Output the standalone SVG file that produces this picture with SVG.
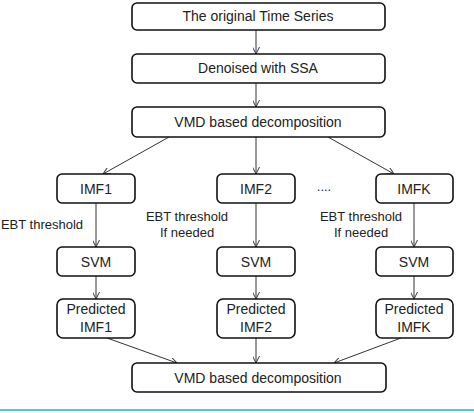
<svg xmlns="http://www.w3.org/2000/svg" width="474" height="413" viewBox="0 0 474 413">
<defs>
<style>
.box{fill:#fff;stroke:#111;stroke-width:1.6}
.t{font-family:"Liberation Sans",Arial,sans-serif;font-size:14px;fill:#222;text-anchor:middle}
.lbl{font-family:"Liberation Sans",Arial,sans-serif;font-size:13px;fill:#222;text-anchor:middle}
.c{stroke:#333;stroke-width:1;fill:none;marker-end:url(#ah)}
</style>
<marker id="ah" viewBox="0 0 10 10" refX="10" refY="5" markerWidth="7" markerHeight="7" orient="auto" markerUnits="userSpaceOnUse">
<path d="M0,0 L10,5 L0,10" fill="none" stroke="#333" stroke-width="1.4"/>
</marker>
</defs>
<rect width="474" height="413" fill="#fff"/>
<g id="connectors">
<line class="c" x1="256" y1="30" x2="256" y2="54"/>
<line class="c" x1="256" y1="83" x2="256" y2="107"/>
<line class="c" x1="169" y1="137" x2="103" y2="174"/>
<line class="c" x1="256" y1="137" x2="256" y2="174"/>
<line class="c" x1="328" y1="137" x2="394" y2="174"/>
<line class="c" x1="96" y1="203" x2="96" y2="247"/>
<line class="c" x1="256" y1="203" x2="256" y2="247"/>
<line class="c" x1="414" y1="203" x2="414" y2="247"/>
<line class="c" x1="96" y1="276" x2="96" y2="299"/>
<line class="c" x1="256" y1="276" x2="256" y2="299"/>
<line class="c" x1="414" y1="276" x2="414" y2="299"/>
<line class="c" x1="107" y1="338" x2="177" y2="363"/>
<line class="c" x1="256" y1="338" x2="256" y2="363"/>
<line class="c" x1="401" y1="338" x2="334" y2="363"/>
</g>
<g id="n1"><rect class="box" x="132" y="3" width="253" height="27" rx="5"/><text class="t" x="258" y="21">The original Time Series</text></g>
<g id="n2"><rect class="box" x="132" y="54" width="253" height="29" rx="5"/><text class="t" x="258" y="73">Denoised with SSA</text></g>
<g id="n3"><rect class="box" x="132" y="107" width="253" height="30" rx="5"/><text class="t" x="258" y="127">VMD based decomposition</text></g>
<g id="imf1"><rect class="box" x="57" y="174" width="78" height="29" rx="5"/><text class="t" x="96" y="194">IMF1</text></g>
<g id="imf2"><rect class="box" x="217" y="174" width="78" height="29" rx="5"/><text class="t" x="256" y="194">IMF2</text></g>
<g id="imfk"><rect class="box" x="376" y="174" width="77" height="29" rx="5"/><text class="t" x="414" y="194">IMFK</text></g>
<g id="svm1"><rect class="box" x="57" y="247" width="78" height="29" rx="5"/><text class="t" x="96" y="267">SVM</text></g>
<g id="svm2"><rect class="box" x="217" y="247" width="78" height="29" rx="5"/><text class="t" x="256" y="267">SVM</text></g>
<g id="svmk"><rect class="box" x="376" y="247" width="77" height="29" rx="5"/><text class="t" x="414" y="267">SVM</text></g>
<g id="p1"><rect class="box" x="57" y="299" width="78" height="39" rx="6"/><text class="t" x="96" y="314">Predicted</text><text class="t" x="96" y="332">IMF1</text></g>
<g id="p2"><rect class="box" x="217" y="299" width="78" height="39" rx="6"/><text class="t" x="256" y="314">Predicted</text><text class="t" x="256" y="332">IMF2</text></g>
<g id="pk"><rect class="box" x="376" y="299" width="77" height="39" rx="6"/><text class="t" x="414" y="314">Predicted</text><text class="t" x="414" y="332">IMFK</text></g>
<g id="n4"><rect class="box" x="132" y="363" width="254" height="29" rx="5"/><text class="t" x="258" y="383">VMD based decomposition</text></g>
<g id="labels">
<text class="lbl" x="42" y="229">EBT threshold</text>
<text class="lbl" x="187" y="221">EBT threshold</text>
<text class="lbl" x="187" y="237">If needed</text>
<text class="lbl" x="361" y="221">EBT threshold</text>
<text class="lbl" x="361" y="237">If needed</text>
<text class="lbl" x="324" y="191">....</text>
</g>
<line x1="0" y1="410" x2="474" y2="410" stroke="#5bc0de" stroke-width="2"/>
</svg>
